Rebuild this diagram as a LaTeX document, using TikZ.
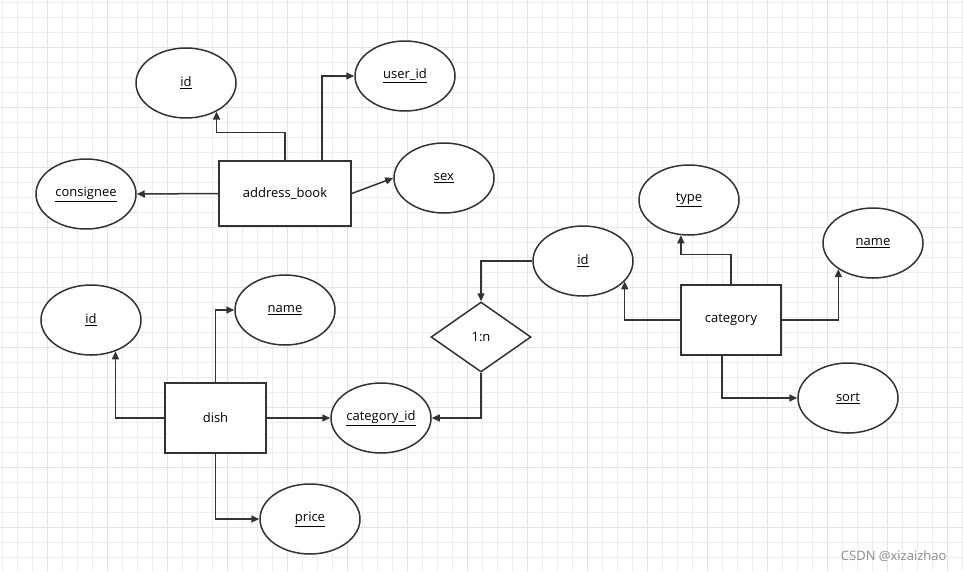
\documentclass[tikz,border=0pt]{standalone}
\usepackage{fontspec}
\setmainfont{Open Sans}
\usetikzlibrary{shapes.geometric,arrows.meta}
\definecolor{ln}{HTML}{333333}
\begin{document}
\begin{tikzpicture}[x=1pt,y=-1pt,
  ent/.style={draw=ln,line width=1.5pt,fill=white,minimum width=#1,minimum height=65pt,inner sep=0pt,font=\fontsize{13}{15}\selectfont},
  att/.style={ellipse,draw=ln,line width=1.5pt,fill=white,minimum width=100pt,minimum height=70pt,inner sep=0pt,font=\fontsize{13}{15}\selectfont},
  rel/.style={diamond,draw=ln,line width=1.5pt,fill=white,minimum width=100pt,minimum height=70pt,inner sep=0pt,aspect=1.43,font=\fontsize{13}{15}\selectfont},
  arr/.style={draw=ln,line width=1.5pt,-{Triangle[length=8pt,width=7pt]}}]
\fill[white] (0,0) rectangle (963,571);
\useasboundingbox (0,0) rectangle (963,571);
\foreach \i in {0,...,64} \draw[black!7,line width=0.6pt] (2.3+15*\i,0) -- (2.3+15*\i,571);
\foreach \i in {0,...,38} \draw[black!7,line width=0.6pt] (0,2.3+15*\i) -- (963,2.3+15*\i);
\foreach \i in {0,...,16} \draw[black!11,line width=0.8pt] (-12.7+60*\i,0) -- (-12.7+60*\i,571);
\foreach \i in {0,...,9} \draw[black!11,line width=0.8pt] (0,-12.7+60*\i) -- (963,-12.7+60*\i);

\node[ent=132pt] (ab) at (285,193.5) {address\_book};
\node[att] (id) at (186,83) {\underline{id}};
\node[att] (uid) at (405,76) {\underline{user\_id}};
\node[att] (cons) at (86,194) {\underline{consignee}};
\node[att] (sex) at (444,178) {\underline{sex}};

\node[ent=101pt,minimum height=70pt] (dish) at (215.5,418) {dish};
\node[att] (id2) at (91,320) {\underline{id}};
\node[att] (name) at (285,310) {\underline{name}};
\node[att] (catid) at (381,418) {\underline{category\_id}};
\node[att] (price) at (310,519) {\underline{price}};

\node[rel] (r) at (481,337) {1:n};
\node[att] (id3) at (583,261) {\underline{id}};

\node[ent=100pt,minimum height=70pt] (cat) at (731,320) {category};
\node[att] (type) at (689,200) {\underline{type}};
\node[att] (name2) at (873,243) {\underline{name}};
\node[att] (sort) at (848,398) {\underline{sort}};

\node[text=black!45,font=\fontsize{13}{15}\selectfont,anchor=east] (wm) at (950,556) {CSDN @xizaizhao};

\draw[arr] (ab.north) -- ++(0,-28) -| (id.-43);
\draw[arr] ([xshift=37pt]ab.north) |- (uid.west);
\draw[arr] (ab.west) -- (cons.east);
\draw[arr] (ab.east) -- (sex.west);

\draw[arr] (dish.west) -| (id2.-52);
\draw[arr] (dish.north) |- (name.west);
\draw[arr] (dish.east) -- (catid.west);
\draw[arr] (dish.south) |- (price.west);

\draw[arr] (r.south) |- (catid.east);
\draw[arr] (id3.west) -| (r.north);
\draw[arr] (cat.west) -| (id3.-26);
\draw[arr] (cat.north) -- ++(0,-30) -| (type.-103);
\draw[arr] (cat.east) -| (name2.-143);
\draw[arr] ([xshift=-9pt]cat.south) |- (sort.west);
\end{tikzpicture}
\end{document}
